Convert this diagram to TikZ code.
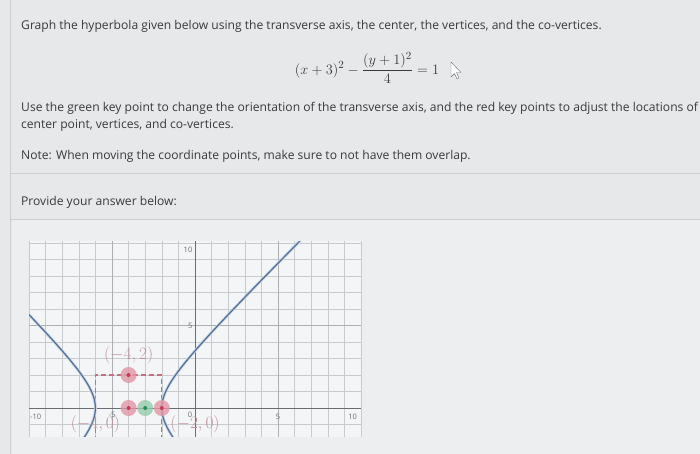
\documentclass[tikz,border=0pt]{standalone}
\usepackage{fontspec}
\setmainfont{Open Sans}
\usepackage{amsmath}
\usepackage{tikz}
\definecolor{pagegray}{RGB}{230,232,234}
\definecolor{panelgray}{RGB}{236,238,240}
\definecolor{ruleline}{RGB}{205,207,210}
\definecolor{bodytext}{RGB}{55,57,60}
\definecolor{gridgray}{RGB}{200,203,206}
\definecolor{axisgray}{RGB}{105,108,112}
\definecolor{curveblue}{RGB}{78,112,155}
\definecolor{halored}{RGB}{226,150,166}
\definecolor{dotred}{RGB}{196,62,92}
\definecolor{halogreen}{RGB}{150,204,172}
\definecolor{dotgreen}{RGB}{40,140,92}
\definecolor{labelpink}{RGB}{190,145,155}
\definecolor{dashred}{RGB}{200,110,128}

\begin{document}
\begin{tikzpicture}[x=1pt,y=-1pt,
  bodyline/.style={anchor=base west,inner sep=0pt,text=bodytext,font=\fontsize{12.1}{14}\selectfont},
  ticklbl/.style={inner sep=0pt,text=axisgray,font=\fontsize{7.5}{9}\selectfont},
  ptlbl/.style={inner sep=0pt,text=labelpink,font=\fontsize{16}{18}\selectfont},
  redkey/.style={circle,inner sep=0pt,minimum size=16pt,fill=halored,fill opacity=0.8},
  greenkey/.style={circle,inner sep=0pt,minimum size=16pt,fill=halogreen,fill opacity=0.8}]
\useasboundingbox(0,0)rectangle(700,454);
\clip(0,0)rectangle(700,454);
\fill[pagegray](0,0)rectangle(700,454);
\fill[panelgray](12,220)rectangle(700,454);
\draw[ruleline](10,0)--(10,454);
\draw[ruleline](10,173)--(700,173);
\draw[ruleline](10,219)--(700,219);
% question text
\node[bodyline](q1) at (21,30) {Graph the hyperbola given below using the transverse axis, the center, the vertices, and the co-vertices.};
\node[inner sep=0pt,text=bodytext,font=\fontsize{15.5}{18}\selectfont](eqn) at (367,68)
  {$\displaystyle (x+3)^2-\frac{(y+1)^2}{4}=1$};
\draw[axisgray,fill=white,line join=round](451,62)--(451,77)--(454.5,73.5)--(457,79)--(459,78)--(456.5,72.5)--(461,72.5)--cycle;
\node[bodyline](q2) at (21,112) {Use the green key point to change the orientation of the transverse axis, and the red key points to adjust the locations of};
\node[bodyline](q3) at (21,129) {center point, vertices, and co-vertices.};
\node[bodyline](q4) at (21,160) {Note: When moving the coordinate points, make sure to not have them overlap.};
\node[bodyline](q5) at (21,205) {Provide your answer below:};
% the graph
\coordinate (O) at (195,408);
\begin{scope}[shift={(O)},x=16.6pt,y=16.5pt]
\fill[white,opacity=0.45](-10,-1.75)rectangle(10,10.1);
\draw[gridgray,line width=0.5pt,step=1](-10,-1.75)grid(10,10.1);
\foreach \v in {-5,5}{
  \draw[gridgray!70!axisgray,line width=0.6pt](\v,-1.75)--(\v,10.1);
  \draw[gridgray!70!axisgray,line width=0.6pt](-10,\v)--(10,\v);
}
\draw[axisgray,line width=0.8pt](-10,0)--(10,0);
\draw[axisgray,line width=0.8pt](0,-1.75)--(0,10.1);
\node[ticklbl](xm10) at (-9.6,-0.55) {-10};
\node[ticklbl](xm5) at (-5,-0.4) {-5};
\node[ticklbl](x0) at (-0.3,-0.4) {0};
\node[ticklbl](x5) at (5,-0.55) {5};
\node[ticklbl](x10) at (9.5,-0.55) {10};
\node[ticklbl,anchor=east](y5) at (-0.15,5) {5};
\node[ticklbl,anchor=east](y10) at (-0.15,9.6) {10};
% hyperbola and the key points
\begin{scope}
\clip(-10,-1.75)rectangle(10,10.1);
\draw[dashred,line width=1.3pt,dash pattern=on 5pt off 3pt](-6,-2)--(-6,2)--(-2,2)--(-2,-2);
\foreach \s in {1,-1}{
  \draw[curveblue!30,line width=2.8pt,smooth,domain=-1:2.45,samples=60]
    plot ({-4+\s*2*cosh(\x)},{2*sinh(\x)});
  \draw[curveblue,line width=1.2pt,smooth,domain=-1:2.45,samples=60]
    plot ({-4+\s*2*cosh(\x)},{2*sinh(\x)});
}
\end{scope}
\node[redkey](cv) at (-4,2) {};
\node[redkey](ctr) at (-4,0) {};
\node[greenkey](orient) at (-3,0) {};
\node[redkey](vx) at (-2,0) {};
\foreach \p in {cv,ctr,vx}{\fill[dotred](\p) circle (2pt);}
\fill[dotgreen](orient) circle (2pt);
\node[ptlbl](lblcv) at (-4,3.2) {$(-4,2)$};
\node[ptlbl](lbllv) at (-6,-1.0) {$(-4,0)$};
\node[ptlbl](lblrv) at (0,-1.0) {$(-2,0)$};
\end{scope}
\end{tikzpicture}
\end{document}
